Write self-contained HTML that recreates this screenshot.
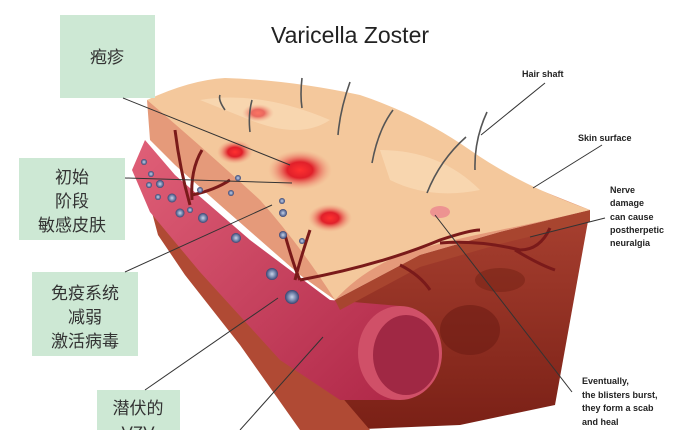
<!DOCTYPE html>
<html><head><meta charset="utf-8"><style>
body{margin:0;width:700px;height:430px;overflow:hidden;background:#fff}
svg{display:block}
.cn{font-family:"Liberation Sans","Noto Sans CJK SC",sans-serif;font-size:17px;fill:#333;text-anchor:middle}
.en{font-family:"Liberation Sans",sans-serif;font-size:9px;fill:#222;font-weight:bold}
</style></head><body>
<svg width="700" height="430" viewBox="0 0 700 430">
<defs>
<radialGradient id="bl"><stop offset="0" stop-color="#ff3030"/><stop offset="0.4" stop-color="#e0202a"/><stop offset="1" stop-color="#f0a080" stop-opacity="0"/></radialGradient>
<radialGradient id="dot"><stop offset="0" stop-color="#c8d4e8"/><stop offset="0.6" stop-color="#7080a8"/><stop offset="1" stop-color="#3a4470"/></radialGradient>
<linearGradient id="tube" x1="0" y1="0" x2="1" y2="1"><stop offset="0" stop-color="#e06078"/><stop offset="1" stop-color="#b02848"/></linearGradient>
<linearGradient id="rf" x1="0" y1="0" x2="0" y2="1"><stop offset="0" stop-color="#a84030"/><stop offset="1" stop-color="#7a2016"/></linearGradient>
</defs>
<!-- right face -->
<polygon points="590,210 555,405 460,425 340,430 300,330 335,300 420,255 500,232" fill="url(#rf)"/>
<ellipse cx="470" cy="330" rx="30" ry="25" fill="#6e1c14" opacity=".6"/>
<ellipse cx="500" cy="280" rx="25" ry="12" fill="#7a2418" opacity=".6"/>
<!-- lower layer under tube -->
<polygon points="150,205 200,265 280,355 340,395 370,430 300,430 240,345 185,275 158,235" fill="#b04a34"/>
<!-- nerve tube -->
<polygon points="145,140 175,175 250,240 330,300 400,306 400,400 340,400 280,360 200,272 150,212 132,170" fill="url(#tube)"/>
<ellipse cx="400" cy="353" rx="42" ry="47" fill="#d05068"/>
<ellipse cx="406" cy="355" rx="33" ry="40" fill="#a02844"/>
<!-- epidermis front face -->
<polygon points="147,100 150,140 175,165 220,205 260,240 300,275 335,300 420,255 500,232 590,210 540,190 470,170 400,175 320,180 250,150" fill="#e59a7a"/>
<polygon points="335,300 420,255 500,232 590,210 590,222 500,244 420,267 340,310" fill="#a8452f"/>
<!-- top face -->
<path d="M147,100 Q190,80 225,78 Q290,80 360,95 Q420,115 470,150 Q520,185 590,210 Q540,222 500,230 Q440,242 400,255 Q360,272 335,300 Q300,245 260,200 Q200,145 147,100 Z" fill="#f4c89c"/>
<path d="M200,100 Q260,90 330,120 Q300,140 250,120 Z" fill="#fadcb8" opacity=".7"/>
<path d="M380,150 Q440,150 480,190 Q430,200 390,180 Z" fill="#fadcb8" opacity=".7"/>
<!-- blisters -->
<ellipse cx="300" cy="170" rx="32" ry="20" fill="url(#bl)"/>
<ellipse cx="235" cy="152" rx="18" ry="12" fill="url(#bl)"/>
<ellipse cx="330" cy="218" rx="22" ry="14" fill="url(#bl)"/>
<ellipse cx="258" cy="113" rx="16" ry="9" fill="url(#bl)" opacity=".6"/>
<ellipse cx="440" cy="212" rx="10" ry="6" fill="#e8708a" opacity=".6"/>
<!-- hairs -->
<g stroke="#555" stroke-width="1.6" fill="none">
<path d="M225,110 Q218,100 220,95"/><path d="M250,132 Q248,115 252,100"/>
<path d="M302,78 Q300,95 302,108"/><path d="M338,135 Q340,110 350,82"/>
<path d="M372,163 Q378,130 393,110"/><path d="M475,170 Q474,140 487,112"/>
<path d="M427,193 Q440,160 466,137"/>
</g>
<!-- nerves -->
<g stroke="#7a1a1a" stroke-width="3" fill="none">
<path d="M175,130 Q180,170 190,205"/><path d="M202,150 Q190,170 192,200"/>
<path d="M192,195 Q215,190 230,180"/>
<path d="M285,235 Q295,270 300,280"/><path d="M310,230 Q300,260 295,280"/>
<path d="M300,280 Q380,265 440,240 Q470,230 480,230"/>
<path d="M440,243 Q480,240 520,250 Q540,250 550,228"/>
<path d="M515,250 Q540,265 555,270"/>
<path d="M400,265 Q420,275 430,290"/>
</g>
<!-- dots -->
<g fill="url(#dot)">
<circle cx="144" cy="162" r="3"/><circle cx="151" cy="174" r="3"/><circle cx="160" cy="184" r="4"/><circle cx="149" cy="185" r="3"/>
<circle cx="158" cy="197" r="3"/><circle cx="172" cy="198" r="4.5"/><circle cx="180" cy="213" r="4.5"/><circle cx="203" cy="218" r="5"/>
<circle cx="236" cy="238" r="5"/><circle cx="272" cy="274" r="6"/><circle cx="292" cy="297" r="7"/>
<circle cx="282" cy="201" r="3"/><circle cx="283" cy="213" r="4"/><circle cx="283" cy="235" r="4"/><circle cx="302" cy="241" r="3"/>
<circle cx="190" cy="210" r="3"/><circle cx="200" cy="190" r="3"/><circle cx="231" cy="193" r="3"/><circle cx="238" cy="178" r="3"/>
</g>
<text x="350" y="43" text-anchor="middle" font-family="Liberation Sans,sans-serif" font-size="23" fill="#222">Varicella Zoster</text>
<rect x="60" y="15" width="95" height="83" fill="#cde8d4"/>
<text class="cn" x="107" y="63">疱疹</text>
<rect x="19" y="158" width="106" height="82" fill="#cde8d4"/>
<text class="cn" x="72" y="183">初始</text><text class="cn" x="72" y="207">阶段</text><text class="cn" x="72" y="231">敏感皮肤</text>
<rect x="32" y="272" width="106" height="84" fill="#cde8d4"/>
<text class="cn" x="85" y="299">免疫系统</text><text class="cn" x="85" y="323">减弱</text><text class="cn" x="85" y="347">激活病毒</text>
<rect x="97" y="390" width="83" height="45" fill="#cde8d4"/>
<text class="cn" x="138" y="414">潜伏的</text><text class="cn" x="138" y="438">VZV</text>
<g stroke="#333" stroke-width="1">
<line x1="123" y1="98" x2="290" y2="165"/><line x1="125" y1="178" x2="292" y2="183"/>
<line x1="125" y1="272" x2="272" y2="205"/><line x1="145" y1="390" x2="278" y2="298"/>
<line x1="240" y1="430" x2="323" y2="337"/>
<line x1="545" y1="83" x2="481" y2="135"/><line x1="602" y1="145" x2="533" y2="188"/>
<line x1="605" y1="218" x2="530" y2="237"/><line x1="572" y1="392" x2="435" y2="215"/>
</g>
<text class="en" x="522" y="77">Hair shaft</text>
<text class="en" x="578" y="141">Skin surface</text>
<text class="en" x="610" y="193">Nerve</text><text class="en" x="610" y="206">damage</text><text class="en" x="610" y="220">can cause</text><text class="en" x="610" y="233">postherpetic</text><text class="en" x="610" y="246">neuralgia</text>
<text class="en" x="582" y="384">Eventually,</text><text class="en" x="582" y="398">the blisters burst,</text><text class="en" x="582" y="411">they form a scab</text><text class="en" x="582" y="425">and heal</text>
</svg>
</body></html>
